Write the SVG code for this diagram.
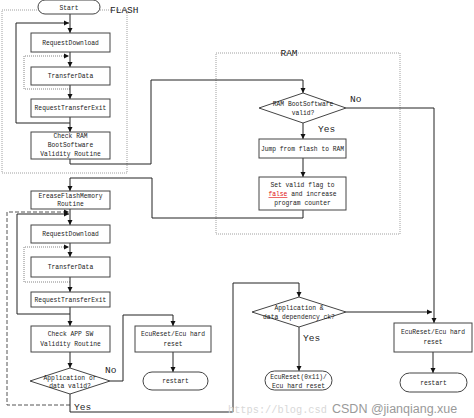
<svg xmlns="http://www.w3.org/2000/svg" width="474" height="418" viewBox="0 0 474 418">
<defs>
<marker id="ah" viewBox="0 0 10 10" refX="10" refY="5" markerWidth="5.5" markerHeight="5.5" orient="auto" markerUnits="userSpaceOnUse">
<path d="M0,0 L10,5 L0,10 z" fill="#111"/>
</marker>
<style>
.box{fill:#fff;stroke:#444;stroke-width:1}
.t{font-family:"Liberation Mono",monospace;font-size:6.3px;fill:#222;text-anchor:middle}
.lbl{font-family:"Liberation Mono",monospace;font-size:9.5px;fill:#222}
.c{fill:none;stroke:#222;stroke-width:1}
.dot{fill:none;stroke:#666;stroke-width:0.8;stroke-dasharray:1,1}
.dash{fill:none;stroke:#555;stroke-width:1;stroke-dasharray:4,2}
.region{fill:none;stroke:#888;stroke-width:0.8;stroke-dasharray:1,1}
</style>
</defs>
<rect width="474" height="418" fill="#fff"/>

<g id="regions">
<rect class="region" x="2" y="10" width="125" height="163"/>
<text class="lbl" x="110" y="13">FLASH</text>
<rect class="region" x="216" y="53" width="184" height="181"/>
<text class="lbl" x="289" y="56" text-anchor="middle">RAM</text>
</g>

<g id="connectors">
<path class="c" d="M70,14 V33" marker-end="url(#ah)"/>
<path class="c" d="M70,123 H16 V23 H69" marker-end="url(#ah)"/>
<path class="c" d="M70,52 V67" marker-end="url(#ah)"/>
<path class="dot" d="M70,89 H24 V56 H69" marker-end="url(#ah)"/>
<path class="c" d="M70,85 V99" marker-end="url(#ah)"/>
<path class="c" d="M70,117 V132" marker-end="url(#ah)"/>
<path class="c" d="M70,159 V164 H151 V80 H303 V93" marker-end="url(#ah)"/>
<path class="c" d="M303,123 V139" marker-end="url(#ah)"/>
<path class="c" d="M303,158 V177" marker-end="url(#ah)"/>
<path class="c" d="M303,210 V218 H152 V178 H70 V191" marker-end="url(#ah)"/>
<path class="c" d="M346,108 H434 V323" marker-end="url(#ah)"/>
<path class="c" d="M70,209 V225" marker-end="url(#ah)"/>
<path class="c" d="M70,314 H17 V214 H69" marker-end="url(#ah)"/>
<path class="dash" d="M70,405 H7 V212 H69" marker-end="url(#ah)"/>
<path class="c" d="M70,243 V257" marker-end="url(#ah)"/>
<path class="dot" d="M70,282 H24 V247 H69" marker-end="url(#ah)"/>
<path class="c" d="M70,277 V292" marker-end="url(#ah)"/>
<path class="c" d="M70,307 V326" marker-end="url(#ah)"/>
<path class="c" d="M70,352 V368" marker-end="url(#ah)"/>
<path class="c" d="M110,381 H123 V315 H173 V326" marker-end="url(#ah)"/>
<path class="c" d="M173,352 V372" marker-end="url(#ah)"/>
<path class="c" d="M70,394 V412 H233 V283 H299 V297" marker-end="url(#ah)"/>
<path class="c" d="M346,312 H432" marker-end="url(#ah)"/>
<path class="c" d="M299,327 V371" marker-end="url(#ah)"/>
<path class="c" d="M433,352 V373" marker-end="url(#ah)"/>
</g>

<g id="labels">
<text class="lbl" x="350" y="102">No</text>
<text class="lbl" x="318" y="132">Yes</text>
<text class="lbl" x="105" y="373">No</text>
<text class="lbl" x="74" y="410">Yes</text>
<text class="lbl" x="303" y="341">Yes</text>
</g>

<g id="start">
<rect class="box" x="38" y="0" width="62" height="14" rx="7"/>
<text class="t" x="69" y="9.5">Start</text>
</g>
<g id="requestDownload1">
<rect class="box" x="31" y="33" width="79" height="19"/>
<text class="t" x="70.5" y="44.5">RequestDownload</text>
</g>
<g id="transferData1">
<rect class="box" x="31" y="67" width="79" height="18"/>
<text class="t" x="70.5" y="78">TransferData</text>
</g>
<g id="requestTransferExit1">
<rect class="box" x="31" y="99" width="79" height="18"/>
<text class="t" x="70.5" y="110">RequestTransferExit</text>
</g>
<g id="checkRam">
<rect class="box" x="31" y="132" width="79" height="27"/>
<text class="t" x="70.5" y="138">Check RAM</text>
<text class="t" x="70.5" y="147">BootSoftware</text>
<text class="t" x="70.5" y="156">Validity Routine</text>
</g>
<g id="ramValid">
<polygon class="box" points="303,93 346,108 303,123 259,108"/>
<text class="t" x="303" y="106">RAM BootSoftware</text>
<text class="t" x="303" y="115">valid?</text>
</g>
<g id="jump">
<rect class="box" x="259" y="139" width="87" height="19"/>
<text class="t" x="302.5" y="150.5">Jump from flash to RAM</text>
</g>
<g id="setValid">
<rect class="box" x="259" y="177" width="87" height="33"/>
<text class="t" x="302.5" y="187">Set valid flag to</text>
<text class="t" x="302.5" y="196"><tspan fill="#e01010" text-decoration="underline">false</tspan> and increase</text>
<text class="t" x="302.5" y="204.5">program counter</text>
</g>
<g id="erase">
<rect class="box" x="31" y="191" width="79" height="18"/>
<text class="t" x="70.5" y="198">EreaseFlashMemory</text>
<text class="t" x="70.5" y="206">Routine</text>
</g>
<g id="requestDownload2">
<rect class="box" x="31" y="225" width="79" height="18"/>
<text class="t" x="70.5" y="236">RequestDownload</text>
</g>
<g id="transferData2">
<rect class="box" x="31" y="257" width="79" height="20"/>
<text class="t" x="70.5" y="269">TransferData</text>
</g>
<g id="requestTransferExit2">
<rect class="box" x="31" y="292" width="79" height="15"/>
<text class="t" x="70.5" y="302">RequestTransferExit</text>
</g>
<g id="checkApp">
<rect class="box" x="31" y="326" width="79" height="26"/>
<text class="t" x="70.5" y="336">Check APP SW</text>
<text class="t" x="70.5" y="346">Validity Routine</text>
</g>
<g id="appValid">
<polygon class="box" points="70,368 110,381 70,394 30,381"/>
<text class="t" x="70" y="380">Application or</text>
<text class="t" x="70" y="388">data valid?</text>
</g>
<g id="ecuReset1">
<rect class="box" x="135" y="326" width="76" height="26"/>
<text class="t" x="173" y="336">EcuReset/Ecu hard</text>
<text class="t" x="173" y="346">reset</text>
</g>
<g id="restart1">
<rect class="box" x="143" y="372" width="65" height="18" rx="9"/>
<text class="t" x="175.5" y="383">restart</text>
</g>
<g id="dependency">
<polygon class="box" points="299,297 346,312 299,327 252,312"/>
<text class="t" x="299" y="310">Application &amp;</text>
<text class="t" x="299" y="319">data dependency ck?</text>
</g>
<g id="ecuReset0x11">
<rect class="box" x="265" y="371" width="67" height="19" rx="9.5"/>
<text class="t" x="298.5" y="379">EcuReset(0x11)/</text>
<text class="t" x="298.5" y="387.5">Ecu hard reset</text>
</g>
<g id="ecuReset2">
<rect class="box" x="394" y="323" width="78" height="29"/>
<text class="t" x="433" y="334">EcuReset/Ecu hard</text>
<text class="t" x="433" y="344">reset</text>
</g>
<g id="restart2">
<rect class="box" x="400" y="373" width="67" height="19" rx="9.5"/>
<text class="t" x="433.5" y="384.5">restart</text>
</g>

<g id="watermark">
<text x="228" y="413" font-family="Liberation Mono,monospace" font-size="10.3" fill="#d8d8d8">https://blog.csd</text>
<text x="332" y="413" font-family="Liberation Sans,sans-serif" font-size="12.5" fill="#9a9a9a">CSDN @jianqiang.xue</text>
</g>
</svg>
